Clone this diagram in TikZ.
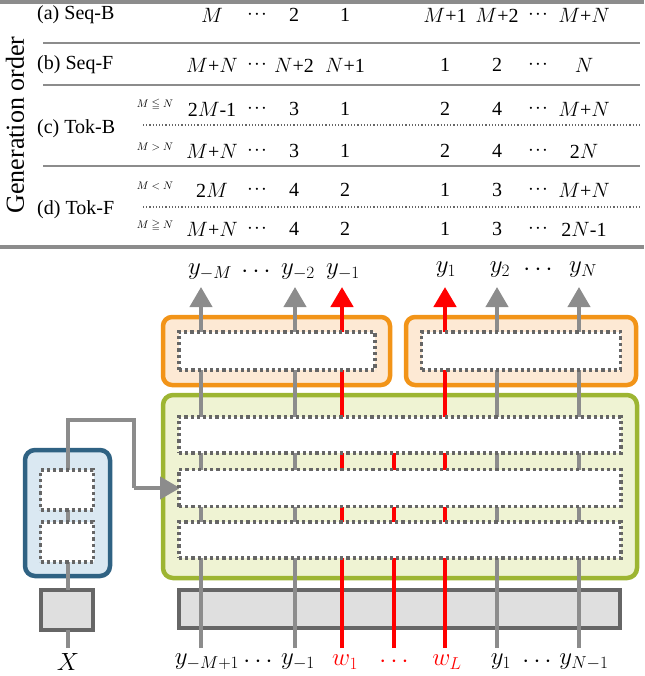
\documentclass[tikz,border=0pt]{standalone}
\usepackage{amssymb}
\usepackage{fontspec}
\setmainfont{Liberation Serif}
\usetikzlibrary{arrows.meta}
\definecolor{ob}{HTML}{F29418}\definecolor{of}{HTML}{FDE9D4}
\definecolor{gb}{HTML}{9DB532}\definecolor{gf}{HTML}{EFF3D3}
\definecolor{bb}{HTML}{2F6283}\definecolor{bf}{HTML}{DAE8F2}
\definecolor{ln}{HTML}{8C8C8C}\definecolor{dk}{HTML}{666666}
\definecolor{rd}{HTML}{FF0000}
\begin{document}
\begin{tikzpicture}[x=1pt,y=-1pt,
 t/.style={font=\fontsize{20}{20}\selectfont,inner sep=0pt},
 c/.style={font=\fontsize{11}{11}\selectfont,inner sep=0pt},
 rule/.style={ln,line width=1.8pt},
 dotl/.style={dk,line width=1.2pt,dotted},
 dbox/.style={draw=dk,line width=3.2pt,dash pattern=on 3.2pt off 3pt,fill=white},
 col/.style={ln,line width=4pt},
 rcol/.style={rd,line width=4.5pt},
 tip/.style={-{Triangle[width=22pt,length=20pt]}},
 ml/.style={font=\fontsize{24}{24}\selectfont,inner sep=0pt}]
\useasboundingbox (0,0) rectangle (644,676);
% table
\draw[ln,line width=4.5pt] (0,2)--(644,2);
\draw[ln,line width=4.5pt] (0,247)--(644,247);
\foreach \y in {43,85,166} \draw[rule] (43,\y)--(640,\y);
\foreach \y in {125,207} \draw[dotl] (143,\y)--(640,\y);
\node[rotate=90,font=\fontsize{26}{26}\selectfont,inner sep=0pt] (go) at (15,125) {Generation order};
\node[t,anchor=west] (la) at (37,15) {(a) Seq-B};
\node[t,anchor=west] (lb) at (37,65) {(b) Seq-F};
\node[t,anchor=west] (lc) at (37,129) {(c) Tok-B};
\node[t,anchor=west] (ld) at (37,210) {(d) Tok-F};
\node[c] (c1) at (155,105) {$M\leqq N$};
\node[c] (c2) at (155,147) {$M>N$};
\node[c] (c3) at (155,186) {$M<N$};
\node[c] (c4) at (155,226) {$M\geqq N$};
\foreach \y/\a/\b/\cc/\d/\e/\f/\n in {
 15/$M$/2/1/$M$+1/$M$+2/$M$+$N$/a,
 65/$M$+$N$/$N$+2/$N$+1/1/2/$N$/b,
 109/2$M$-1/3/1/2/4/$M$+$N$/c,
 151/$M$+$N$/3/1/2/4/2$N$/d,
 190/2$M$/4/2/1/3/$M$+$N$/e,
 229/$M$+$N$/4/2/1/3/2$N$-1/f}{
 \node[t] (\n1) at (212,\y) {\a};
 \node[t] (\n2) at (257,\y) {$\cdot\!\cdot\!\cdot$};
 \node[t] (\n3) at (294,\y) {\b};
 \node[t] (\n4) at (345,\y) {\cc};
 \node[t] (\n5) at (445,\y) {\d};
 \node[t] (\n6) at (497,\y) {\e};
 \node[t] (\n7) at (538,\y) {$\cdot\!\cdot\!\cdot$};
 \node[t] (\n8) at (584,\y) {\f};
}
% blocks
\draw[gb,fill=gf,line width=4.5pt,rounded corners=10pt] (163,395) rectangle (637,578);
\draw[ob,fill=of,line width=4.5pt,rounded corners=9pt] (163,317) rectangle (390,385);
\draw[ob,fill=of,line width=4.5pt,rounded corners=9pt] (406,317) rectangle (636,385);
\draw[bb,fill=bf,line width=4.5pt,rounded corners=10pt] (25,450) rectangle (110,576);
\draw[dk,fill=gray!25,line width=3.5pt] (179,590) rectangle (620,628);
\draw[dk,fill=gray!25,line width=3.5pt] (41,590) rectangle (93,630);
% columns
\foreach \x in {201,295,497,579} \draw[col,tip] (\x,648)--(\x,287);
\draw[rcol,tip] (342,648)--(342,287);
\draw[rcol,tip] (445,648)--(445,287);
\draw[rcol] (394,648)--(394,440);
\draw[col] (68,648)--(68,630);
\draw[col] (68,590)--(68,420)--(134,420)--(134,488);
\draw[col,tip] (134,488)--(180,488);
% dotted inner boxes
\node[dbox,minimum width=196pt,minimum height=38pt] (o1) at (277,351) {};
\node[dbox,minimum width=199pt,minimum height=38pt] (o2) at (521,351) {};
\node[dbox,minimum width=442pt,minimum height=36pt] (r1) at (400,435) {};
\node[dbox,minimum width=442pt,minimum height=37pt] (r2) at (400,488) {};
\node[dbox,minimum width=442pt,minimum height=36pt] (r3) at (400,540) {};
\node[dbox,minimum width=53pt,minimum height=40pt] (b1) at (67,490) {};
\node[dbox,minimum width=53pt,minimum height=40pt] (b2) at (67,542) {};
% top labels
\node[ml] (t1) at (210,272) {$y_{-M}$};
\node[ml] (t2) at (256,272) {$\cdots$};
\node[ml] (t3) at (298,272) {$y_{-2}$};
\node[ml] (t4) at (343,272) {$y_{-1}$};
\node[ml] (t5) at (446,270) {$y_{1}$};
\node[ml] (t6) at (500,270) {$y_{2}$};
\node[ml] (t7) at (538,270) {$\cdots$};
\node[ml] (t8) at (583,270) {$y_{N}$};
% bottom labels
\node[ml] (x) at (68,662) {$X$};
\node[ml] (u1) at (207,662) {$y_{-M+1}$};
\node[ml] (u2) at (258,662) {$\cdots$};
\node[ml] (u3) at (298,662) {$y_{-1}$};
\node[ml,rd] (u4) at (345,662) {$w_{1}$};
\node[ml,rd] (u5) at (394,662) {$\cdots$};
\node[ml,rd] (u6) at (447,662) {$w_{L}$};
\node[ml] (u7) at (501,662) {$y_{1}$};
\node[ml] (u8) at (537,662) {$\cdots$};
\node[ml] (u9) at (584,662) {$y_{N-1}$};
\end{tikzpicture}
\end{document}
